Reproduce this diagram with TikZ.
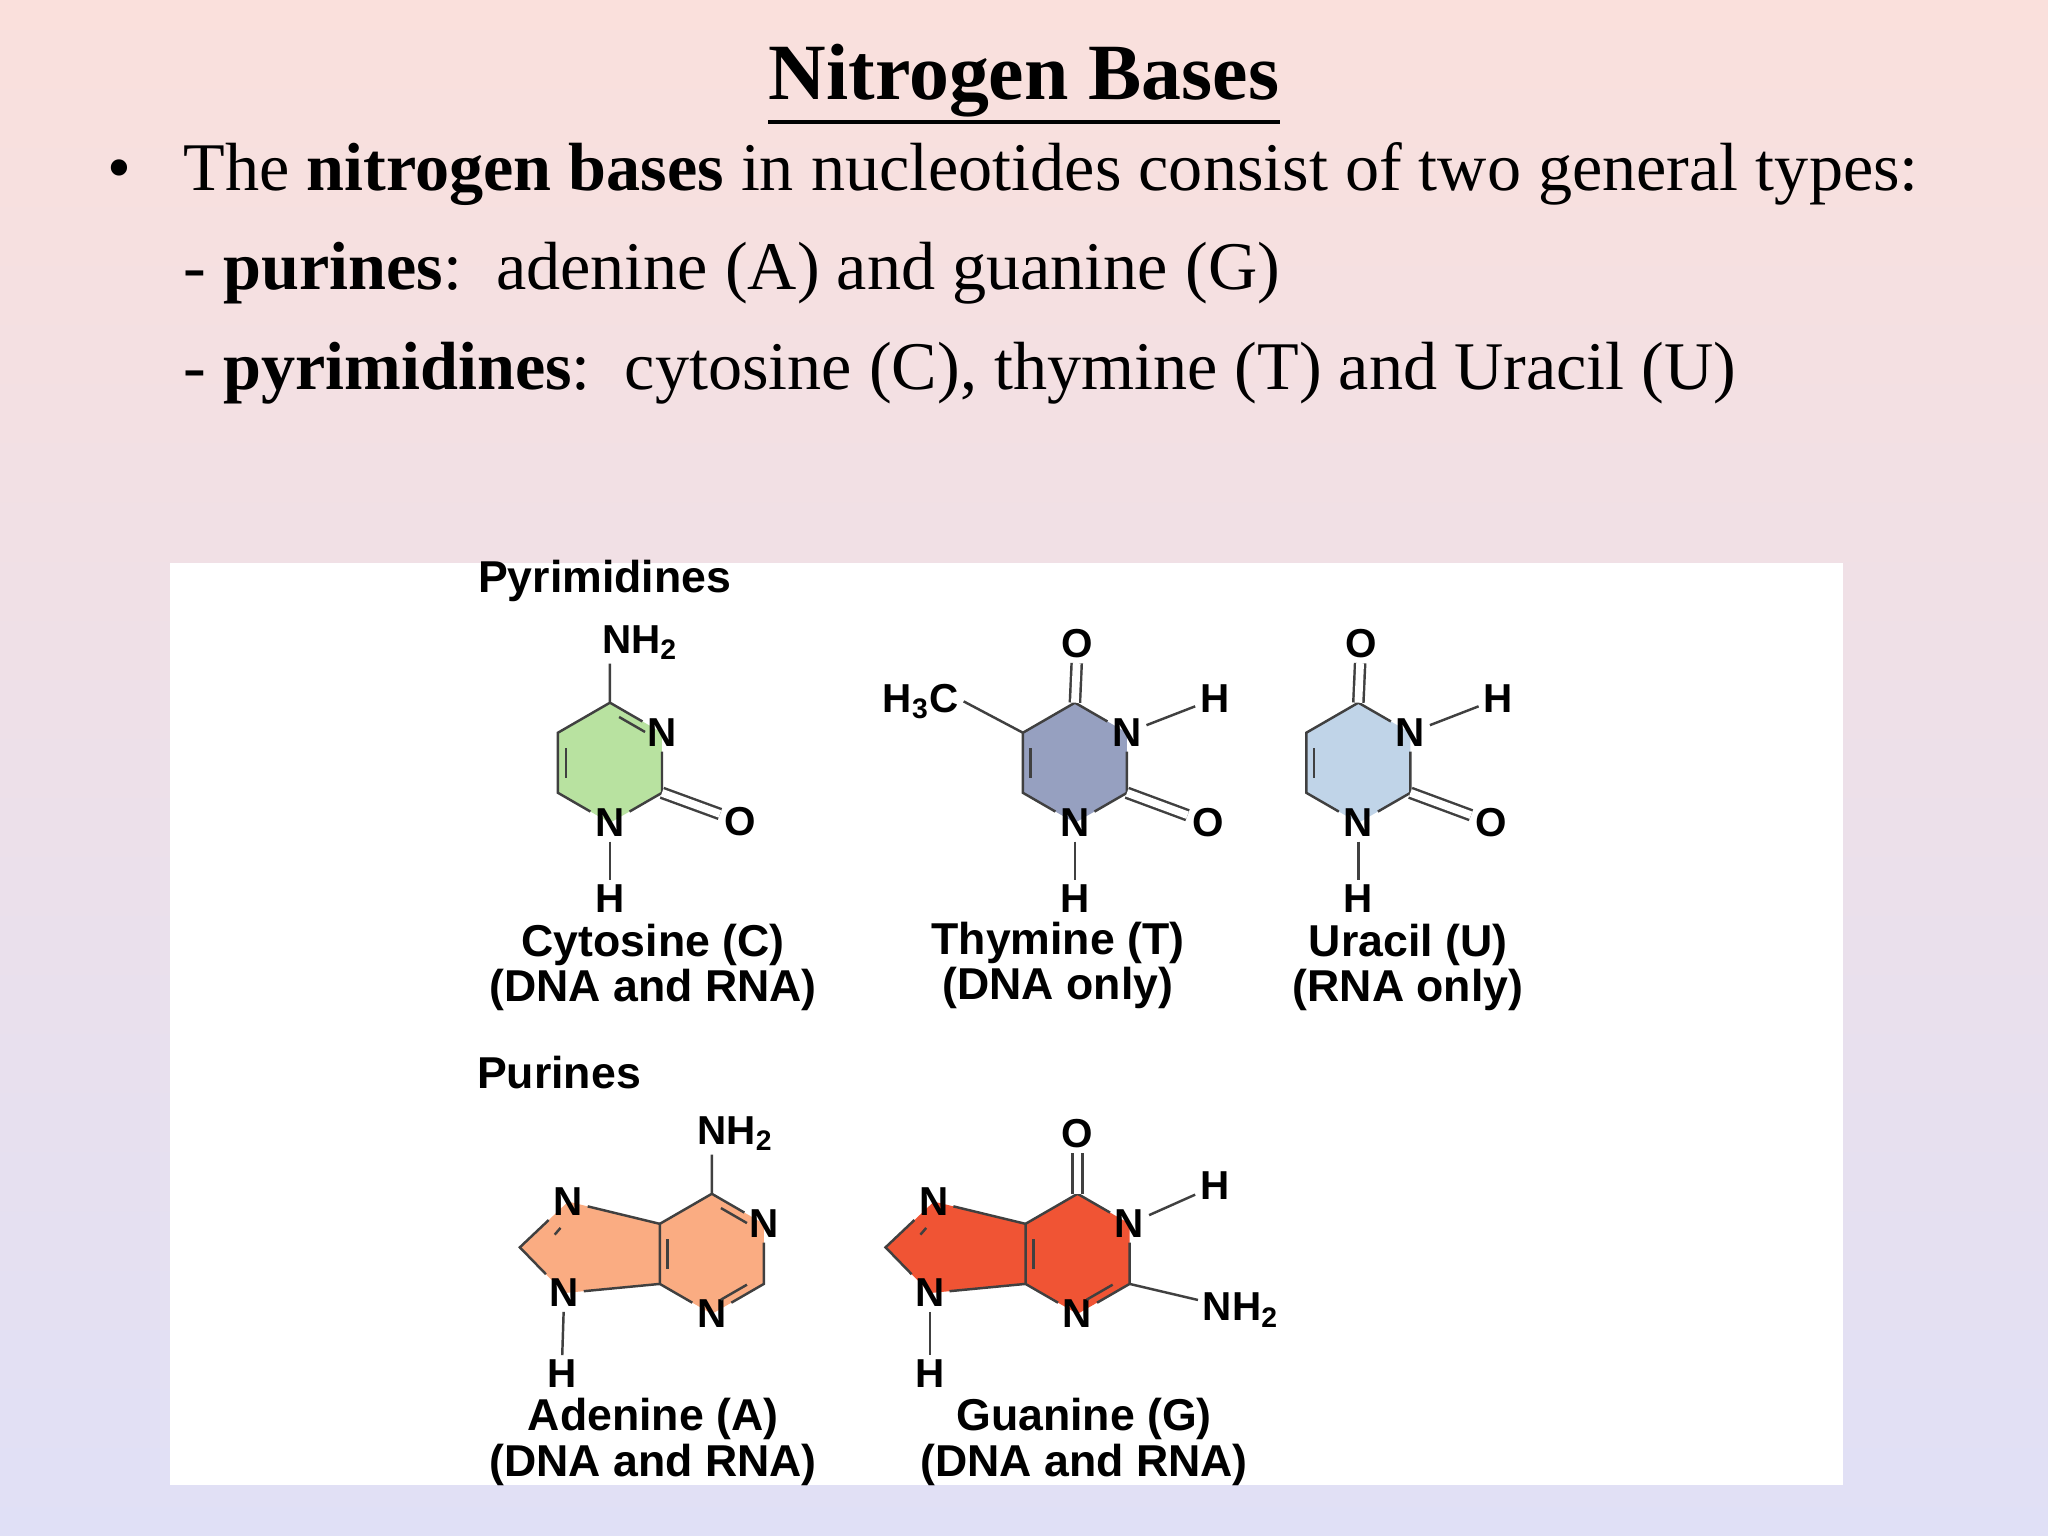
\documentclass[tikz,border=0pt]{standalone}
\usepackage{fontspec}
\setmainfont{Liberation Serif}
\setsansfont{Liberation Sans}
\usetikzlibrary{calc}
\definecolor{bgtop}{RGB}{250,224,220}
\definecolor{bgbot}{RGB}{224,224,246}
\definecolor{cytc}{RGB}{184,226,160}
\definecolor{thyc}{RGB}{150,160,192}
\definecolor{urac}{RGB}{192,212,232}
\definecolor{adec}{RGB}{250,172,130}
\definecolor{guac}{RGB}{240,84,52}
\tikzset{
  atom/.style={font=\sffamily\bfseries\fontsize{11.5}{11.5}\selectfont, inner sep=1.2pt},
  basecap/.style={font=\sffamily\bfseries\fontsize{12.7}{11.5}\selectfont, align=center},
  bond/.style={line width=0.7pt, black!75},
  dbl/.style={bond, double, double distance=2.2pt},
  inner/.style={bond, shorten <=3pt, shorten >=3pt},
  body/.style={font=\fontsize{19.4}{22}\selectfont, anchor=west, inner sep=0pt},
}
\begin{document}
\begin{tikzpicture}[x=0.01306cm, y=-0.01306cm]
\useasboundingbox (0,0) rectangle (1568,1176);
\shade[top color=bgtop, bottom color=bgbot] (0,0) rectangle (1568,1176);
\fill[white] (130,431) rectangle (1411,1137);
% heading and bullets
\node[font=\bfseries\fontsize{22.7}{24}\selectfont, inner sep=0pt] (title) at (784,62) {Nitrogen Bases};
\draw[line width=1.2pt] (title.south west)++(0,3) -- ($(title.south east)+(0,3)$);
\node[body] (dot) at (82,134) {•};
\node[body] (l1) at (140,133) {The \textbf{nitrogen bases} in nucleotides consist of two general types:};
\node[body] (l2) at (140,209) {- \textbf{purines}:\ \ adenine (A) and guanine (G)};
\node[body] (l3) at (140,286) {- \textbf{pyrimidines}:\ \ cytosine (C), thymine (T) and Uracil (U)};
\node[basecap] (pyr) at (463,445) {Pyrimidines};
\node[basecap] (pur) at (428,821) {Purines};

% cytosine
\coordinate (cm) at (467,584);
\foreach \i/\a in {1/-90,2/-30,3/30,4/90,5/150,6/210}
  \coordinate (cv\i) at ($(cm)+(\a:46)$);
\fill[cytc] (cv1)--(cv2)--(cv3)--(cv4)--(cv5)--(cv6)--cycle;
\node[atom] (cn3) at (cv2) {N};
\node[atom] (cn1) at (cv4) {N};
\node[atom] (cnh) at (490,492) {NH\textsubscript{2}};
\coordinate (cnb) at (467,508);
\node[atom] (co) at (567,629) {O};
\node[atom] (chh) at (467,688) {H};
\draw[bond] (cv1)--(cn3)--(cv3)--(cn1)--(cv5)--(cv6)--(cv1)--(cnb);
\draw[inner] ($(cv1)!.15!(cm)$)--($(cn3)!.15!(cm)$);
\draw[inner] ($(cv5)!.15!(cm)$)--($(cv6)!.15!(cm)$);
\draw[dbl] (cv3)--(co);
\draw[bond] (cn1)--(chh);
\node[basecap] (ccap) at (500,741) {Cytosine (C)\\(DNA and RNA)};

% thymine
\coordinate (tm) at (823,584);
\foreach \i/\a in {1/-90,2/-30,3/30,4/90,5/150,6/210}
  \coordinate (tv\i) at ($(tm)+(\a:46)$);
\fill[thyc] (tv1)--(tv2)--(tv3)--(tv4)--(tv5)--(tv6)--cycle;
\node[atom] (tn3) at (tv2) {N};
\node[atom] (tn1) at (tv4) {N};
\node[atom] (to4) at (825,493) {O};
\node[atom] (tme) at (705,537) {H\textsubscript{3}C};
\node[atom] (th3) at (930,535) {H};
\node[atom] (to2) at (925,630) {O};
\node[atom] (th1) at (823,688) {H};
\draw[bond] (tv1)--(tn3)--(tv3)--(tn1)--(tv5)--(tv6)--(tv1);
\draw[inner] ($(tv5)!.15!(tm)$)--($(tv6)!.15!(tm)$);
\draw[dbl] (tv1)--(to4);
\draw[dbl] (tv3)--(to2);
\draw[bond] (tv6)--(tme.east);
\draw[bond] (tn3)--(th3);
\draw[bond] (tn1)--(th1);
\node[basecap] (tcap) at (810,739) {Thymine (T)\\(DNA only)};

% uracil
\coordinate (um) at (1040,584);
\foreach \i/\a in {1/-90,2/-30,3/30,4/90,5/150,6/210}
  \coordinate (uv\i) at ($(um)+(\a:46)$);
\fill[urac] (uv1)--(uv2)--(uv3)--(uv4)--(uv5)--(uv6)--cycle;
\node[atom] (un3) at (uv2) {N};
\node[atom] (un1) at (uv4) {N};
\node[atom] (uo4) at (1042,493) {O};
\node[atom] (uh3) at (1147,535) {H};
\node[atom] (uo2) at (1142,630) {O};
\node[atom] (uh1) at (1040,688) {H};
\draw[bond] (uv1)--(un3)--(uv3)--(un1)--(uv5)--(uv6)--(uv1);
\draw[inner] ($(uv5)!.15!(um)$)--($(uv6)!.15!(um)$);
\draw[dbl] (uv1)--(uo4);
\draw[dbl] (uv3)--(uo2);
\draw[bond] (un3)--(uh3);
\draw[bond] (un1)--(uh1);
\node[basecap] (ucap) at (1078,741) {Uracil (U)\\(RNA only)};

% adenine
\coordinate (am) at (545,960);
\foreach \i/\a in {1/-90,2/-30,3/30,4/90,5/150,6/210}
  \coordinate (av\i) at ($(am)+(\a:46)$);
\coordinate (av7) at (435,920);
\coordinate (av8) at (398,955);
\coordinate (av9) at (432,990);
\fill[adec] (av1)--(av2)--(av3)--(av4)--(av5)--(av9)--(av8)--(av7)--(av6)--cycle;
\node[atom] (an1) at (av2) {N};
\node[atom] (an3) at (av4) {N};
\node[atom] (an7) at (av7) {N};
\node[atom] (an9) at (av9) {N};
\node[atom] (anh) at (563,868) {NH\textsubscript{2}};
\coordinate (anb) at (545,884);
\node[atom] (ah9) at (430,1052) {H};
\draw[bond] (av1)--(an1)--(av3)--(an3)--(av5)--(av6)--(av1)--(anb);
\draw[bond] (av6)--(an7)--(av8)--(an9)--(av5);
\draw[inner] ($(av1)!.15!(am)$)--($(an1)!.15!(am)$);
\draw[inner] ($(av3)!.15!(am)$)--($(an3)!.15!(am)$);
\draw[inner] ($(av5)!.15!(am)$)--($(av6)!.15!(am)$);
\draw[inner] ($(an7)!.2!(av9)$)--($(av8)!.2!(av6)$);
\draw[bond] (an9)--(ah9);
\node[basecap] (acap) at (500,1104) {Adenine (A)\\(DNA and RNA)};

% guanine
\coordinate (gm) at (825,960);
\foreach \i/\a in {1/-90,2/-30,3/30,4/90,5/150,6/210}
  \coordinate (gv\i) at ($(gm)+(\a:46)$);
\coordinate (gv7) at (715,920);
\coordinate (gv8) at (678,955);
\coordinate (gv9) at (712,990);
\fill[guac] (gv1)--(gv2)--(gv3)--(gv4)--(gv5)--(gv9)--(gv8)--(gv7)--(gv6)--cycle;
\node[atom] (gn1) at (gv2) {N};
\node[atom] (gn3) at (gv4) {N};
\node[atom] (gn7) at (gv7) {N};
\node[atom] (gn9) at (gv9) {N};
\node[atom] (go6) at (825,868) {O};
\node[atom] (gh1) at (930,908) {H};
\node[atom] (gnh) at (950,1003) {NH\textsubscript{2}};
\node[atom] (gh9) at (712,1052) {H};
\draw[bond] (gv1)--(gn1)--(gv3)--(gn3)--(gv5)--(gv6)--(gv1);
\draw[bond] (gv6)--(gn7)--(gv8)--(gn9)--(gv5);
\draw[inner] ($(gv3)!.15!(gm)$)--($(gn3)!.15!(gm)$);
\draw[inner] ($(gv5)!.15!(gm)$)--($(gv6)!.15!(gm)$);
\draw[inner] ($(gn7)!.2!(gv9)$)--($(gv8)!.2!(gv6)$);
\draw[dbl] (gv1)--(go6);
\draw[bond] (gn1)--(gh1);
\draw[bond] (gv3)--(gnh);
\draw[bond] (gn9)--(gh9);
\node[basecap] (gcap) at (830,1104) {Guanine (G)\\(DNA and RNA)};
\end{tikzpicture}
\end{document}
